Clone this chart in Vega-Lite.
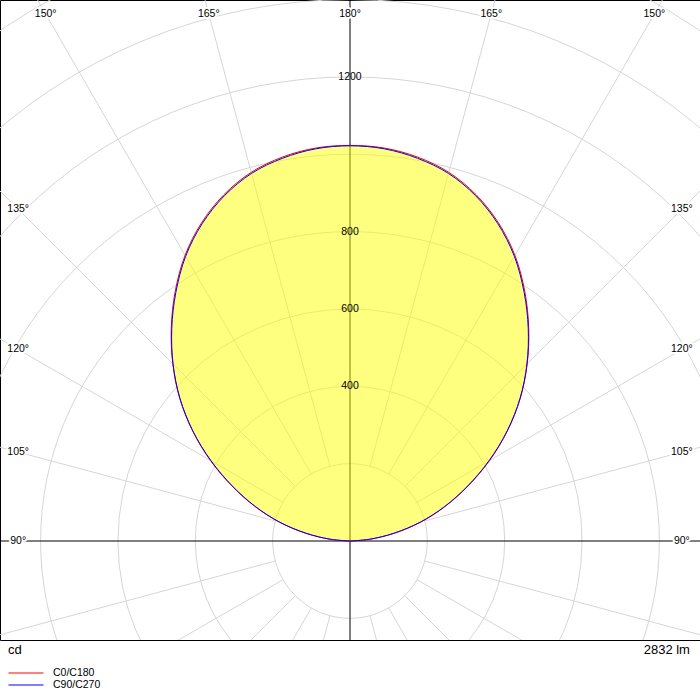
{
  "$schema": "https://vega.github.io/schema/vega-lite/v6.json",
  "width": 700,
  "height": 640,
  "autosize": {"type": "none"},
  "padding": {"left": 0, "top": 0, "right": 0, "bottom": 60},
  "background": "white",
  "config": {"view": {"stroke": "black", "strokeWidth": 1}, "font": "Liberation Sans"},
  "datasets": {
    "curve": [
      {"s": "C0/C180", "side": -1, "g": 90, "cd": 0},
      {"s": "C0/C180", "side": -1, "g": 95, "cd": 51},
      {"s": "C0/C180", "side": -1, "g": 100, "cd": 117},
      {"s": "C0/C180", "side": -1, "g": 105, "cd": 190},
      {"s": "C0/C180", "side": -1, "g": 110, "cd": 262},
      {"s": "C0/C180", "side": -1, "g": 115, "cd": 337},
      {"s": "C0/C180", "side": -1, "g": 120, "cd": 417},
      {"s": "C0/C180", "side": -1, "g": 125, "cd": 497},
      {"s": "C0/C180", "side": -1, "g": 130, "cd": 575},
      {"s": "C0/C180", "side": -1, "g": 135, "cd": 648},
      {"s": "C0/C180", "side": -1, "g": 140, "cd": 719},
      {"s": "C0/C180", "side": -1, "g": 145, "cd": 788},
      {"s": "C0/C180", "side": -1, "g": 150, "cd": 853},
      {"s": "C0/C180", "side": -1, "g": 155, "cd": 908},
      {"s": "C0/C180", "side": -1, "g": 160, "cd": 953},
      {"s": "C0/C180", "side": -1, "g": 165, "cd": 987},
      {"s": "C0/C180", "side": -1, "g": 170, "cd": 1008},
      {"s": "C0/C180", "side": -1, "g": 175, "cd": 1020},
      {"s": "C0/C180", "side": -1, "g": 180, "cd": 1023},
      {"s": "C0/C180", "side": 1, "g": 175, "cd": 1020},
      {"s": "C0/C180", "side": 1, "g": 170, "cd": 1008},
      {"s": "C0/C180", "side": 1, "g": 165, "cd": 987},
      {"s": "C0/C180", "side": 1, "g": 160, "cd": 953},
      {"s": "C0/C180", "side": 1, "g": 155, "cd": 908},
      {"s": "C0/C180", "side": 1, "g": 150, "cd": 853},
      {"s": "C0/C180", "side": 1, "g": 145, "cd": 788},
      {"s": "C0/C180", "side": 1, "g": 140, "cd": 719},
      {"s": "C0/C180", "side": 1, "g": 135, "cd": 648},
      {"s": "C0/C180", "side": 1, "g": 130, "cd": 575},
      {"s": "C0/C180", "side": 1, "g": 125, "cd": 497},
      {"s": "C0/C180", "side": 1, "g": 120, "cd": 417},
      {"s": "C0/C180", "side": 1, "g": 115, "cd": 337},
      {"s": "C0/C180", "side": 1, "g": 110, "cd": 262},
      {"s": "C0/C180", "side": 1, "g": 105, "cd": 190},
      {"s": "C0/C180", "side": 1, "g": 100, "cd": 117},
      {"s": "C0/C180", "side": 1, "g": 95, "cd": 51},
      {"s": "C0/C180", "side": 1, "g": 90, "cd": 0},
      {"s": "C90/C270", "side": -1, "g": 90, "cd": 0},
      {"s": "C90/C270", "side": -1, "g": 95, "cd": 50},
      {"s": "C90/C270", "side": -1, "g": 100, "cd": 115},
      {"s": "C90/C270", "side": -1, "g": 105, "cd": 188},
      {"s": "C90/C270", "side": -1, "g": 110, "cd": 260},
      {"s": "C90/C270", "side": -1, "g": 115, "cd": 335},
      {"s": "C90/C270", "side": -1, "g": 120, "cd": 415},
      {"s": "C90/C270", "side": -1, "g": 125, "cd": 496},
      {"s": "C90/C270", "side": -1, "g": 130, "cd": 574},
      {"s": "C90/C270", "side": -1, "g": 135, "cd": 647},
      {"s": "C90/C270", "side": -1, "g": 140, "cd": 717},
      {"s": "C90/C270", "side": -1, "g": 145, "cd": 785},
      {"s": "C90/C270", "side": -1, "g": 150, "cd": 850},
      {"s": "C90/C270", "side": -1, "g": 155, "cd": 905},
      {"s": "C90/C270", "side": -1, "g": 160, "cd": 950},
      {"s": "C90/C270", "side": -1, "g": 165, "cd": 984},
      {"s": "C90/C270", "side": -1, "g": 170, "cd": 1005},
      {"s": "C90/C270", "side": -1, "g": 175, "cd": 1018},
      {"s": "C90/C270", "side": -1, "g": 180, "cd": 1022},
      {"s": "C90/C270", "side": 1, "g": 175, "cd": 1018},
      {"s": "C90/C270", "side": 1, "g": 170, "cd": 1005},
      {"s": "C90/C270", "side": 1, "g": 165, "cd": 984},
      {"s": "C90/C270", "side": 1, "g": 160, "cd": 950},
      {"s": "C90/C270", "side": 1, "g": 155, "cd": 905},
      {"s": "C90/C270", "side": 1, "g": 150, "cd": 850},
      {"s": "C90/C270", "side": 1, "g": 145, "cd": 785},
      {"s": "C90/C270", "side": 1, "g": 140, "cd": 717},
      {"s": "C90/C270", "side": 1, "g": 135, "cd": 647},
      {"s": "C90/C270", "side": 1, "g": 130, "cd": 574},
      {"s": "C90/C270", "side": 1, "g": 125, "cd": 496},
      {"s": "C90/C270", "side": 1, "g": 120, "cd": 415},
      {"s": "C90/C270", "side": 1, "g": 115, "cd": 335},
      {"s": "C90/C270", "side": 1, "g": 110, "cd": 260},
      {"s": "C90/C270", "side": 1, "g": 105, "cd": 188},
      {"s": "C90/C270", "side": 1, "g": 100, "cd": 115},
      {"s": "C90/C270", "side": 1, "g": 95, "cd": 50},
      {"s": "C90/C270", "side": 1, "g": 90, "cd": 0}
    ],
    "rings": [{"r": 200}, {"r": 400}, {"r": 600}, {"r": 800}, {"r": 1000}, {"r": 1200}, {"r": 1400}, {"r": 1600}],
    "spokes": [{"th": 15}, {"th": 30}, {"th": 45}, {"th": 60}, {"th": 75}, {"th": 105}, {"th": 120}, {"th": 135}, {"th": 150}, {"th": 165}, {"th": 195}, {"th": 210}, {"th": 225}, {"th": 240}, {"th": 255}, {"th": 285}, {"th": 300}, {"th": 315}, {"th": 330}, {"th": 345}],
    "anglelabels": [
      {"lab": "90°", "th": 270}, {"lab": "105°", "th": 255}, {"lab": "120°", "th": 240}, {"lab": "135°", "th": 225}, {"lab": "150°", "th": 210}, {"lab": "165°", "th": 195}, {"lab": "180°", "th": 180},
      {"lab": "165°", "th": 165}, {"lab": "150°", "th": 150}, {"lab": "135°", "th": 135}, {"lab": "120°", "th": 120}, {"lab": "105°", "th": 105}, {"lab": "90°", "th": 90}
    ],
    "valuelabels": [{"v": 400}, {"v": 600}, {"v": 800}, {"v": 1200}]
  },
  "layer": [
    {
      "data": {"name": "rings"},
      "mark": {"type": "point", "shape": "circle", "filled": false, "stroke": "#d6d6d6", "strokeWidth": 1, "opacity": 1, "clip": true},
      "encoding": {
        "x": {"datum": 0, "type": "quantitative", "scale": {"domain": [-905, 905], "nice": false, "zero": false}, "axis": null},
        "y": {"datum": 0, "type": "quantitative", "scale": {"domain": [-256, 1399], "nice": false, "zero": false}, "axis": null},
        "size": {"field": "r", "type": "quantitative", "scale": {"type": "pow", "exponent": 2, "domain": [0, 905], "range": [0, 490000], "zero": true}, "legend": null}
      }
    },
    {
      "data": {"name": "spokes"},
      "transform": [
        {"calculate": "200*sin(datum.th*PI/180)", "as": "x1"},
        {"calculate": "-200*cos(datum.th*PI/180)", "as": "y1"},
        {"calculate": "3000*sin(datum.th*PI/180)", "as": "x2"},
        {"calculate": "-3000*cos(datum.th*PI/180)", "as": "y2"}
      ],
      "mark": {"type": "rule", "stroke": "#d6d6d6", "strokeWidth": 1, "clip": true},
      "encoding": {
        "x": {"field": "x1", "type": "quantitative"},
        "y": {"field": "y1", "type": "quantitative"},
        "x2": {"field": "x2"},
        "y2": {"field": "y2"}
      }
    },
    {
      "data": {"values": [{"axis": "vertical"}]},
      "mark": {"type": "rule", "stroke": "black", "strokeWidth": 1},
      "encoding": {"x": {"datum": 0, "type": "quantitative"}}
    },
    {
      "data": {"values": [{"axis": "horizontal"}]},
      "mark": {"type": "rule", "stroke": "black", "strokeWidth": 1},
      "encoding": {"y": {"datum": 0, "type": "quantitative"}}
    },
    {
      "data": {"name": "curve"},
      "transform": [
        {"filter": "datum.s == 'C0/C180'"},
        {"calculate": "datum.side*datum.cd*sin(datum.g*PI/180)", "as": "x"},
        {"calculate": "-datum.cd*cos(datum.g*PI/180)", "as": "y"},
        {"calculate": "datum.side < 0 ? datum.g : 360 - datum.g", "as": "o"}
      ],
      "mark": {"type": "line", "fill": "#ffff00", "fillOpacity": 0.5, "strokeOpacity": 0, "interpolate": "catmull-rom"},
      "encoding": {
        "x": {"field": "x", "type": "quantitative"},
        "y": {"field": "y", "type": "quantitative"},
        "order": {"field": "o", "type": "quantitative"}
      }
    },
    {
      "data": {"name": "curve"},
      "transform": [
        {"calculate": "datum.side*datum.cd*sin(datum.g*PI/180)", "as": "x"},
        {"calculate": "-datum.cd*cos(datum.g*PI/180)", "as": "y"},
        {"calculate": "datum.side < 0 ? datum.g : 360 - datum.g", "as": "o"}
      ],
      "mark": {"type": "line", "strokeWidth": 1, "interpolate": "catmull-rom"},
      "encoding": {
        "x": {"field": "x", "type": "quantitative"},
        "y": {"field": "y", "type": "quantitative"},
        "order": {"field": "o", "type": "quantitative"},
        "color": {
          "field": "s", "type": "nominal",
          "scale": {"domain": ["C0/C180", "C90/C270"], "range": ["#ff0000", "#0000ff"]},
          "legend": {"orient": "none", "legendX": 8, "legendY": 667, "title": null, "symbolType": "stroke", "symbolSize": 1225, "symbolStrokeWidth": 1, "clipHeight": 12, "labelFont": "Liberation Sans", "labelFontSize": 10.5, "labelColor": "black", "labelOffset": 9, "rowPadding": 0, "padding": 0}
        }
      }
    },
    {
      "data": {"name": "valuelabels"},
      "mark": {"type": "text", "font": "Liberation Sans", "fontSize": 10.5, "color": "black", "align": "center", "baseline": "middle"},
      "encoding": {
        "x": {"datum": 0, "type": "quantitative"},
        "y": {"field": "v", "type": "quantitative"},
        "text": {"field": "v", "type": "nominal"}
      }
    },
    {
      "data": {"name": "anglelabels"},
      "transform": [
        {"calculate": "min(858/abs(sin(datum.th*PI/180)), 1363/abs(cos(datum.th*PI/180)))", "as": "rr"},
        {"calculate": "datum.rr*sin(datum.th*PI/180)", "as": "x"},
        {"calculate": "-datum.rr*cos(datum.th*PI/180)", "as": "y"}
      ],
      "layer": [
        {
          "mark": {"type": "text", "font": "Liberation Sans", "fontSize": 10.5, "fill": "white", "stroke": "white", "strokeWidth": 4, "strokeJoin": "round", "align": "center", "baseline": "middle"}
        },
        {
          "mark": {"type": "text", "font": "Liberation Sans", "fontSize": 10.5, "fill": "black", "align": "center", "baseline": "middle"}
        }
      ],
      "encoding": {
        "x": {"field": "x", "type": "quantitative"},
        "y": {"field": "y", "type": "quantitative"},
        "text": {"field": "lab", "type": "nominal"}
      }
    },
    {
      "data": {"values": [{"t": "cd"}]},
      "mark": {"type": "text", "font": "Liberation Sans", "fontSize": 13, "fill": "black", "align": "left", "baseline": "middle", "clip": false},
      "encoding": {
        "x": {"datum": -884, "type": "quantitative"},
        "y": {"datum": -282, "type": "quantitative"},
        "text": {"field": "t", "type": "nominal"}
      }
    },
    {
      "data": {"values": [{"t": "2832 lm"}]},
      "mark": {"type": "text", "font": "Liberation Sans", "fontSize": 13, "fill": "black", "align": "right", "baseline": "middle", "clip": false},
      "encoding": {
        "x": {"datum": 879, "type": "quantitative"},
        "y": {"datum": -282, "type": "quantitative"},
        "text": {"field": "t", "type": "nominal"}
      }
    }
  ]
}
